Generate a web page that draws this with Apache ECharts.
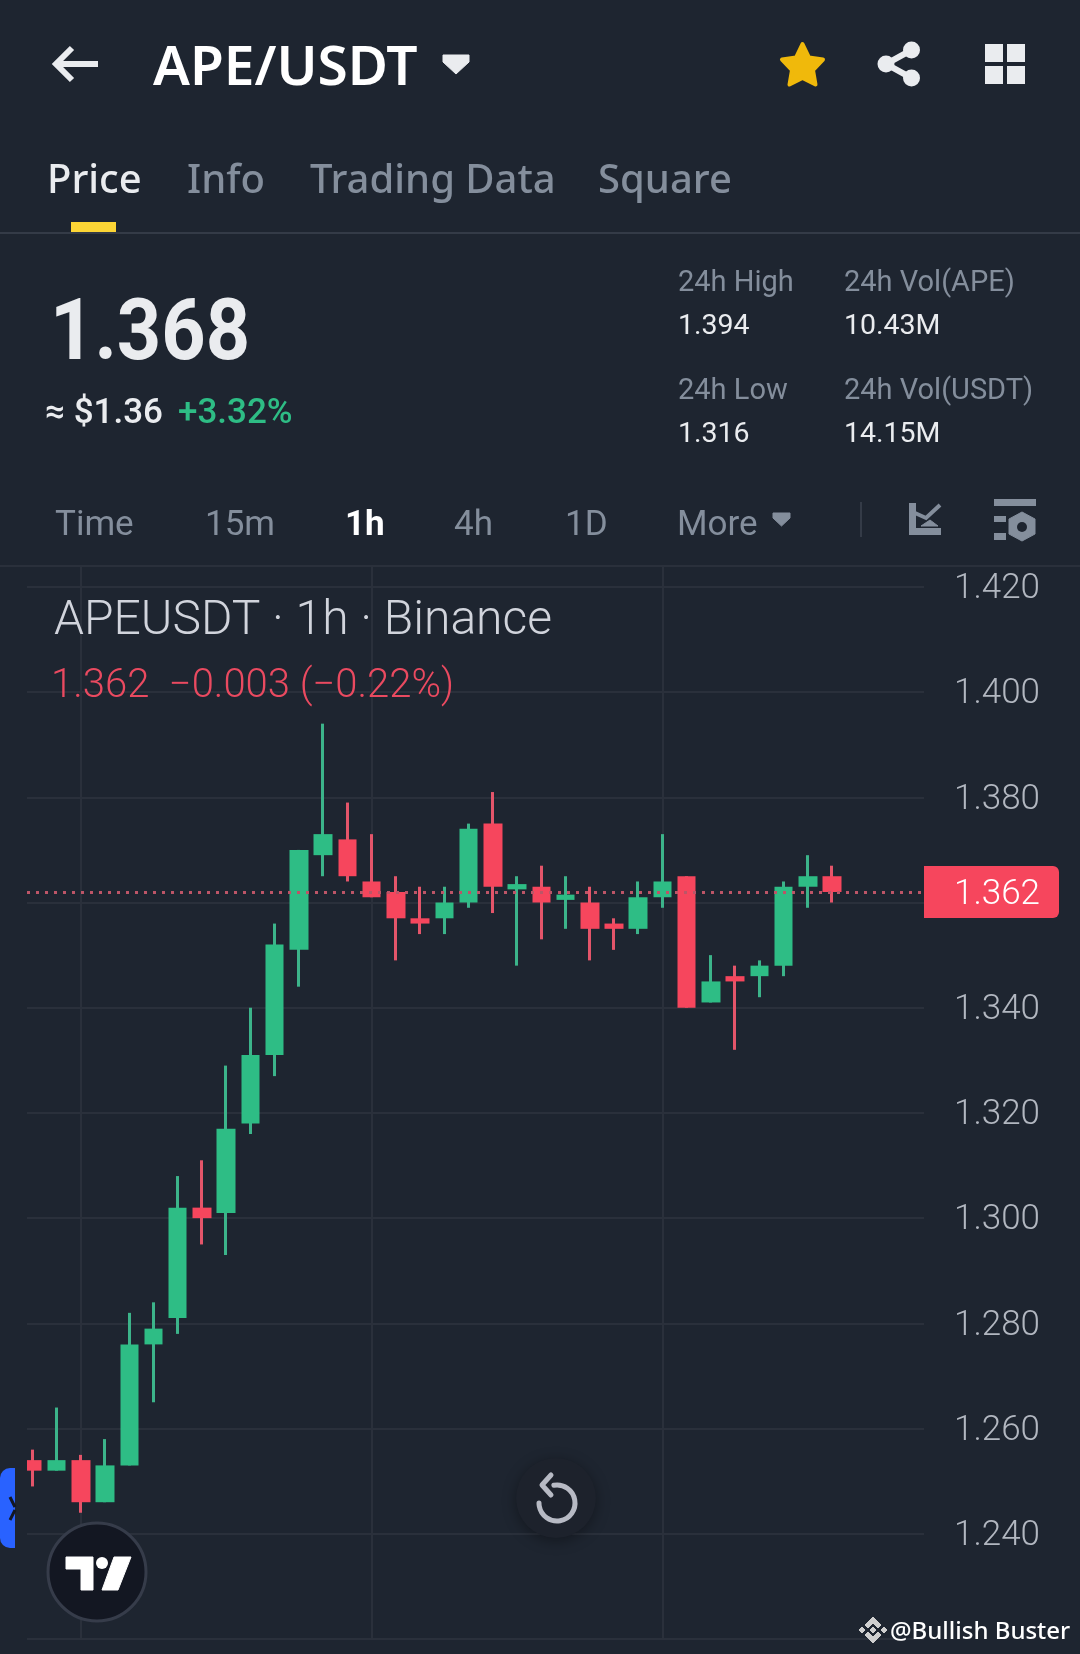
<!DOCTYPE html>
<html lang="en">
<head>
<meta charset="UTF-8">
<title>APE/USDT</title>
<script src="https://cdn.jsdelivr.net/npm/echarts@6/dist/echarts.min.js"></script>
<style>
  html, body { margin: 0; padding: 0; background: #1e2530; }
  #main { width: 1080px; height: 1654px; }
</style>
</head>
<body>
<div id="main"></div>
<script type="text/javascript">
// hourly candles
var opens  = [1.254,1.252,1.254,1.246,1.253,1.276,1.281,1.302,1.301,1.318,1.331,1.351,1.369,1.372,1.364,1.362,1.357,1.357,1.360,1.375,1.3625,1.363,1.3605,1.360,1.356,1.355,1.361,1.365,1.341,1.346,1.346,1.348,1.363,1.365];
var closes = [1.252,1.254,1.246,1.253,1.276,1.279,1.302,1.300,1.317,1.331,1.352,1.370,1.373,1.365,1.361,1.357,1.356,1.360,1.374,1.363,1.3635,1.360,1.3615,1.355,1.355,1.361,1.364,1.340,1.345,1.345,1.348,1.363,1.365,1.362];
var lows   = [1.249,1.252,1.244,1.246,1.253,1.265,1.278,1.295,1.293,1.316,1.327,1.344,1.365,1.364,1.361,1.349,1.354,1.354,1.359,1.358,1.348,1.353,1.355,1.349,1.351,1.354,1.359,1.340,1.341,1.332,1.342,1.346,1.359,1.360];
var highs  = [1.256,1.264,1.255,1.258,1.282,1.284,1.308,1.311,1.329,1.340,1.356,1.370,1.394,1.379,1.373,1.365,1.363,1.363,1.375,1.381,1.365,1.367,1.365,1.363,1.357,1.364,1.373,1.365,1.350,1.348,1.349,1.364,1.369,1.367];
var lastPrice = 1.362;
var sessionLines = [2, 14, 26];   // candle index of the vertical grid lines

var pair = 'APE/USDT';
var tabs = ['Price', 'Info', 'Trading Data', 'Square'];
var ticker = ['1.368', '\u2248 $1.36', '+3.32%'];
var stats = ['24h High', '1.394', '24h Vol(APE)', '10.43M', '24h Low', '1.316', '24h Vol(USDT)', '14.15M'];
var intervals = ['Time', '15m', '1h', '4h', '1D', 'More'];
var legendTitle = 'APEUSDT \u00b7 1h \u00b7 Binance';
var legendValues = '1.362  \u22120.003 (\u22120.22%)';
var watermark = '@Bullish Buster';

var BG = '#1e2530', UP = '#2ebd85', DOWN = '#f6465d', GREY = '#848e9c', LIGHT = '#eaecef';
var UI_FONT = '"Noto Sans", sans-serif', NUM_FONT = 'Roboto, sans-serif', TV_FONT = 'Roboto, sans-serif';

var wickData = opens.map(function (o, i) { return [i, o, closes[i], lows[i], highs[i]]; });
var bodyData = opens.map(function (o, i) {
    return [i, o, closes[i], Math.min(o, closes[i]), Math.max(o, closes[i])];
});

function text(x, y, s, size, fill, weight, family, align) {
    return { type: 'text', z: 20, silent: true, style: {
        x: x, y: y, text: s, fontSize: size, fill: fill, fontWeight: weight || 400,
        fontFamily: family || UI_FONT, align: align || 'left', verticalAlign: 'middle'
    } };
}
function rect(x, y, w, h, fill, r) {
    return { type: 'rect', z: 20, silent: true, shape: { x: x, y: y, width: w, height: h, r: r || 0 }, style: { fill: fill } };
}
function poly(points, fill, z) {
    return { type: 'polygon', z: z || 20, silent: true, shape: { points: points }, style: { fill: fill, stroke: fill, lineWidth: 1, lineJoin: 'round' } };
}
function stroke(points, color, w, z) {
    return { type: 'polyline', z: z || 20, silent: true, shape: { points: points }, style: { stroke: color, lineWidth: w, fill: null, lineJoin: 'miter' } };
}
function circle(x, y, r, fill, extra) {
    var style = { fill: fill };
    for (var k in extra) style[k] = extra[k];
    return { type: 'circle', z: 20, silent: true, shape: { cx: x, cy: y, r: r }, style: style };
}

// big price is narrower than the installed font, squeeze it around its left edge
var bigPrice = text(0, 0, ticker[0], 86, LIGHT, 700, NUM_FONT);
bigPrice.x = 50; bigPrice.y = 337; bigPrice.scaleX = 0.9;

var chrome = [
    // top bar
    stroke([[72, 48], [56, 64], [72, 80]], LIGHT, 6),
    stroke([[57, 64], [98, 64]], LIGHT, 6),
    text(153, 69, pair, 55, '#ffffff', 600),
    poly([[443, 55], [469, 55], [469, 62], [456, 74], [443, 62]], LIGHT),
    // star, share, layout
    { type: 'polygon', z: 20, silent: true,
      shape: { points: [[802.5, 44], [809, 57.5], [823, 59.5], [813, 70], [815.5, 84.5], [802.5, 78], [789.5, 84.5], [792, 70], [782, 59.5], [796, 57.5]] },
      style: { fill: '#f0b90b', stroke: '#f0b90b', lineWidth: 4, lineJoin: 'round' } },
    stroke([[911.5, 50], [886, 64], [911.5, 78]], LIGHT, 6),
    circle(911.5, 50, 8.5, LIGHT), circle(886, 64, 8.5, LIGHT), circle(911.5, 78, 8.5, LIGHT),
    rect(985, 44, 18, 18, LIGHT), rect(1007, 44, 18, 18, LIGHT),
    rect(985, 66, 18, 18, LIGHT), rect(1007, 66, 18, 18, LIGHT),
    // tabs
    text(47, 182, tabs[0], 40, LIGHT, 500),
    text(187, 182, tabs[1], 40, GREY, 500),
    text(310, 182, tabs[2], 40, GREY, 500),
    text(598, 182, tabs[3], 40, GREY, 500),
    rect(71, 222, 45, 10, '#fcd535'),
    rect(0, 232, 1080, 2, '#343b47'),
    // ticker
    bigPrice,
    text(45, 414, ticker[1], 35, LIGHT, 500, NUM_FONT),
    text(178, 414, ticker[2], 35, UP, 500, NUM_FONT),
    // 24h stats
    text(678, 284, stats[0], 29, GREY, 400, NUM_FONT),
    text(678, 327, stats[1], 28.5, LIGHT, 400, NUM_FONT),
    text(844, 284, stats[2], 29, GREY, 400, NUM_FONT),
    text(844, 327, stats[3], 28.5, LIGHT, 400, NUM_FONT),
    text(678, 392, stats[4], 29, GREY, 400, NUM_FONT),
    text(678, 435, stats[5], 28.5, LIGHT, 400, NUM_FONT),
    text(844, 392, stats[6], 29, GREY, 400, NUM_FONT),
    text(844, 435, stats[7], 28.5, LIGHT, 400, NUM_FONT),
    // interval row
    text(55, 526, intervals[0], 35, GREY, 400, NUM_FONT),
    text(205, 526, intervals[1], 35, GREY, 400, NUM_FONT),
    text(345, 526, intervals[2], 35, '#ffffff', 700, NUM_FONT),
    text(454, 526, intervals[3], 35, GREY, 400, NUM_FONT),
    text(565, 526, intervals[4], 35, GREY, 400, NUM_FONT),
    text(677, 526, intervals[5], 35, GREY, 400, NUM_FONT),
    poly([[773, 513], [790, 513], [790, 518], [781.5, 526], [773, 518]], GREY),
    rect(860, 502, 2, 35, '#343b47'),
    rect(909, 503, 7, 32, GREY), rect(909, 528, 32, 7, GREY),
    stroke([[915, 513], [926, 518], [940, 505]], GREY, 4),
    poly([[921, 526], [930, 520], [938, 526]], GREY),
    rect(994, 499, 42, 7, GREY), rect(994, 516, 12, 6, GREY), rect(994, 533, 12, 7, GREY),
    poly([[1022, 512], [1035, 519], [1035, 534], [1022, 541], [1009, 534], [1009, 519]], GREY),
    circle(1022, 527, 5, BG),
    rect(0, 565, 1080, 2, '#2a303b'),
    // chart legend
    text(54, 622, legendTitle, 48, '#d1d4dc', 300, TV_FONT),
    text(51, 687, legendValues, 40, '#ea4a60', 300, TV_FONT),
    // the plot starts at x=27, the first candle is cut off there
    rect(0, 1430, 27, 100, BG),
    // side tab
    { type: 'rect', z: 20, silent: true, shape: { x: 0, y: 1468, width: 15, height: 80, r: [10, 0, 0, 10] }, style: { fill: '#2962ff' } },
    stroke([[10, 1497], [15, 1507]], '#131722', 3),
    stroke([[15, 1510], [10, 1520]], '#131722', 3),
    // TradingView badge
    circle(97, 1572, 49, '#131722', { stroke: '#363c4a', lineWidth: 3 }),
    poly([[66, 1557], [93, 1557], [93, 1590], [81, 1590], [81, 1569], [66, 1569]], '#ffffff'),
    circle(102, 1563, 6, '#ffffff'),
    poly([[114, 1557], [131, 1557], [118, 1590], [102, 1590]], '#ffffff'),
    // reset button
    circle(556, 1498, 40, '#1d222c', { shadowBlur: 14, shadowColor: 'rgba(0,0,0,0.35)', shadowOffsetY: 3 }),
    { type: 'arc', z: 21, silent: true, shape: { cx: 557, cy: 1503, r: 18, startAngle: -100 * Math.PI / 180, endAngle: Math.PI, clockwise: true },
      style: { stroke: '#b7bac4', lineWidth: 5, fill: null, lineCap: 'round' } },
    { type: 'polyline', z: 21, silent: true, shape: { points: [[551, 1475], [542, 1485], [551, 1495]] },
      style: { stroke: '#b7bac4', lineWidth: 5, fill: null, lineCap: 'round', lineJoin: 'round' } },
    // watermark
    poly([[873, 1617], [881, 1625], [878, 1628], [873, 1623], [868, 1628], [865, 1625]], '#cfcfcf'),
    poly([[873, 1643], [881, 1635], [878, 1632], [873, 1637], [868, 1632], [865, 1635]], '#cfcfcf'),
    poly([[873, 1627], [876, 1630], [873, 1633], [870, 1630]], '#cfcfcf'),
    poly([[859, 1630], [862, 1627], [865, 1630], [862, 1633]], '#cfcfcf'),
    poly([[887, 1630], [884, 1627], [881, 1630], [884, 1633]], '#cfcfcf'),
    text(890, 1632, watermark, 24, '#ffffff', 500, UI_FONT)
];

var myChart = echarts.init(document.getElementById('main'), null, { width: 1080, height: 1654 });

myChart.setOption({
    backgroundColor: BG,
    animation: false,
    graphic: { elements: chrome },
    grid: { left: 27, right: 156, top: 565, bottom: 15, containLabel: false },
    xAxis: { type: 'value', min: -0.219, max: 36.79, show: false, splitLine: { show: false } },
    yAxis: {
        type: 'value', position: 'right', min: 1.22, max: 1.42416, interval: 0.02,
        axisLine: { show: false }, axisTick: { show: false },
        splitLine: { show: true, showMaxLine: false, lineStyle: { color: '#2a303b', width: 2 } },
        axisLabel: {
            margin: 30, showMinLabel: false, showMaxLabel: false,
            formatter: function (v) { return '{t|' + v.toFixed(3) + '}'; },
            // plain text ignores padding when centred, a rich token does not
            rich: { t: { color: '#b2b7c0', fontSize: 35, fontWeight: 300, fontFamily: TV_FONT, padding: [5, 0, 0, 0] } }
        }
    },
    series: [
        {
            type: 'candlestick', name: 'wicks', data: wickData, barWidth: 1, z: 2,
            encode: { x: 0, y: [1, 2, 3, 4] },
            itemStyle: { color: '#3cb48a', color0: '#e4556a', borderColor: '#3cb48a', borderColor0: '#e4556a', borderWidth: 3 },
            markLine: {
                silent: true, z: 1, symbol: 'none', animation: false,
                label: { show: false },
                lineStyle: { color: '#2a303b', width: 2, type: 'solid' },
                data: sessionLines.map(function (v) { return { xAxis: v }; })
            }
        },
        {
            type: 'candlestick', name: 'bodies', data: bodyData, barWidth: 19, z: 3,
            encode: { x: 0, y: [1, 2, 3, 4] },
            itemStyle: { color: UP, color0: DOWN, borderColor: UP, borderColor0: DOWN, borderWidth: 0 },
            markLine: {
                silent: true, z: 5, symbol: 'none', animation: false, precision: 3,
                lineStyle: { color: '#bd5567', width: 3, type: [3, 6] },
                label: {
                    show: true, position: 'end', distance: 0,
                    backgroundColor: DOWN, borderRadius: [0, 6, 6, 0], padding: [5, 19, 5, 30],
                    formatter: function (p) { return '{t|' + p.value.toFixed(3) + '}'; },
                    rich: { t: { color: '#ffffff', fontSize: 35, fontWeight: 300, fontFamily: TV_FONT, padding: [7, 0, 0, 0] } }
                },
                data: [{ yAxis: lastPrice }]
            }
        }
    ]
});
</script>
</body>
</html>
